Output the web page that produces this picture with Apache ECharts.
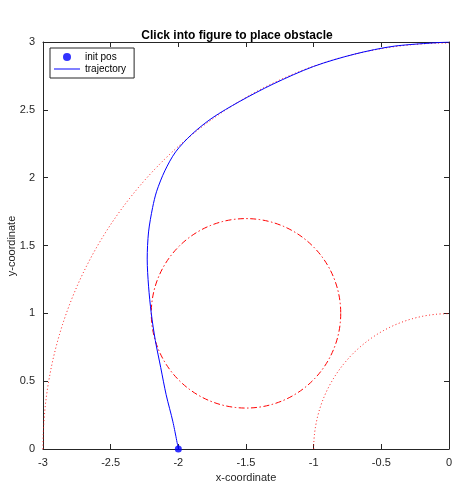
<!DOCTYPE html>
<html><head><meta charset="utf-8">
<script src="https://cdn.jsdelivr.net/npm/echarts@6/dist/echarts.min.js"></script>
<style>html,body{margin:0;background:#fff}#c{width:474px;height:488px}</style>
</head><body><div id="c"></div>
<script>
const trajX = [-2, -2.04, -2.09, -2.13, -2.17, -2.2, -2.22, -2.23, -2.22, -2.19, -2.16, -2.1, -2.02, -1.9, -1.75, -1.55, -1.3, -1.0, -0.7, -0.4, 0];
const trajY = [0, 0.2, 0.4, 0.6, 0.8, 1.0, 1.2, 1.4, 1.6, 1.78, 1.9, 2.05, 2.19, 2.32, 2.44, 2.56, 2.69, 2.82, 2.91, 2.97, 3];
const initPos = [[-2, 0]];
// arcs: [cx, cy, r, startDeg, endDeg, style]
const arcs = [[0, 0, 3, 180, 270, 'dot'], [0, 0, 1, 180, 270, 'dot'], [-1.5, 1, 0.7, 0, 360, 'dashdot']];
const xTicks = [-3, 0, 0.5], yTicks = [0, 3, 0.5];

const chart = echarts.init(document.getElementById('c'));
const axisCommon = {
  axisLine: {show: true, onZero: false, lineStyle: {color: '#262626'}},
  axisTick: {inside: true, length: 5, lineStyle: {color: '#262626'}},
  axisLabel: {color: '#262626', fontSize: 11, fontFamily: 'Liberation Sans'},
  splitLine: {show: false}
};
chart.setOption({
  animation: false,
  title: {text: 'Click into figure to place obstacle', left: 'center', top: 25,
    textStyle: {fontSize: 12, fontWeight: 'bold', color: '#000', fontFamily: 'Liberation Sans'}},
  grid: {left: 43, right: 25, top: 42, bottom: 39, containLabel: false, outerBoundsMode: 'none'},
  legend: {left: 50, top: 48, orient: 'vertical', itemGap: 2, itemWidth: 26, itemHeight: 8,
    borderColor: '#262626', borderWidth: 1, borderRadius: 0, padding: [4, 8, 4, 4],
    textStyle: {fontSize: 10, fontFamily: 'Liberation Sans', color: '#000'},
    data: [{name: 'init pos', icon: 'circle'}, {name: 'trajectory', icon: 'path://M0,4L26,4L26,5L0,5Z'}]},
  graphic: [{type: 'text', x: 12, y: 246, rotation: Math.PI / 2,
    style: {text: 'y-coordinate', fontSize: 11, fill: '#262626', fontFamily: 'Liberation Sans',
      align: 'center', verticalAlign: 'middle'}}],
  xAxis: [
    Object.assign({type: 'value', min: xTicks[0], max: xTicks[1], interval: xTicks[2],
      name: 'x-coordinate', nameLocation: 'middle', nameGap: 20,
      nameTextStyle: {fontSize: 11, color: '#262626', fontFamily: 'Liberation Sans'}}, axisCommon),
    Object.assign({}, axisCommon, {type: 'value', position: 'top', min: xTicks[0], max: xTicks[1], interval: xTicks[2], axisLabel: {show: false}})
  ],
  yAxis: [
    Object.assign({type: 'value', min: yTicks[0], max: yTicks[1], interval: yTicks[2]}, axisCommon),
    Object.assign({}, axisCommon, {type: 'value', position: 'right', min: yTicks[0], max: yTicks[1], interval: yTicks[2], axisLabel: {show: false}})
  ],
  series: [
    {type: 'custom', name: 'arcs', silent: true, data: arcs,
      renderItem: function (params, api) {
        const d = arcs[params.dataIndex];
        const c = api.coord([d[0], d[1]]);
        const r = api.size([d[2], d[2]])[0];
        return {type: 'arc', shape: {cx: c[0], cy: c[1], r: r,
            startAngle: d[3] * Math.PI / 180, endAngle: d[4] * Math.PI / 180, clockwise: true},
          style: {fill: null, stroke: '#ff0000', lineWidth: 1,
            lineDash: d[5] === 'dot' ? [1, 2.5] : [6, 2.5, 1.5, 2.5]}};
      }},
    {type: 'line', name: 'trajectory', data: trajX.map((x, i) => [x, trajY[i]]), smooth: 0.3,
      showSymbol: false, lineStyle: {color: '#0000ff', width: 1}, itemStyle: {color: '#0000ff'}},
    {type: 'scatter', name: 'init pos', data: initPos, symbol: 'circle', symbolSize: 7,
      itemStyle: {color: '#0000ff'}}
  ]
});
</script></body></html>
